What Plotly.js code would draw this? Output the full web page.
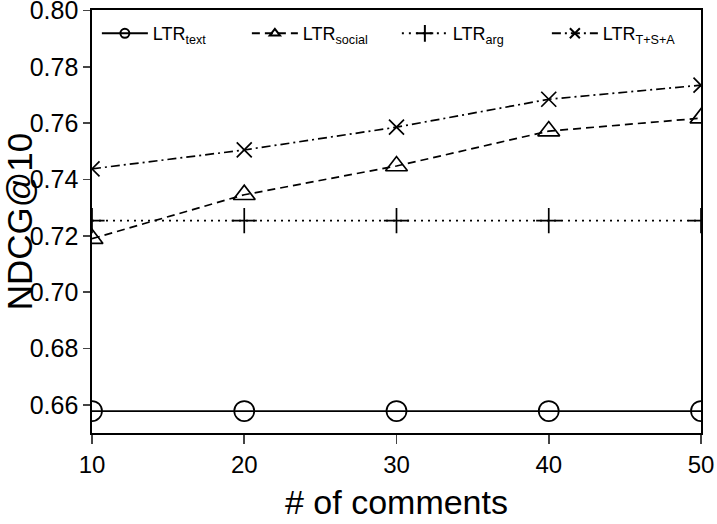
<!DOCTYPE html>
<html><head><meta charset="utf-8">
<script src="https://cdn.plot.ly/plotly-3.0.1.min.js"></script>
<style>html,body{margin:0;padding:0;background:#fff}</style>
</head><body>
<div id="chart" style="width:717px;height:524px"></div>
<script>
const comments = [10, 20, 30, 40, 50];
const ltrText = [0.6578, 0.6578, 0.6578, 0.6578, 0.6578];
const ltrSocial = [0.7190, 0.7346, 0.7448, 0.7572, 0.7618];
const ltrArg = [0.7254, 0.7254, 0.7254, 0.7254, 0.7254];
const ltrTSA = [0.7438, 0.7505, 0.7586, 0.7685, 0.7735];
const seriesNames = ['LTR<sub>text</sub>', 'LTR<sub>social</sub>', 'LTR<sub>arg</sub>', 'LTR<sub>T+S+A</sub>'];
const yTicks = [0.66, 0.68, 0.70, 0.72, 0.74, 0.76, 0.78, 0.80];
const yTickText = ['0.66', '0.68', '0.70', '0.72', '0.74', '0.76', '0.78', '0.80'];

const dashes = ['solid', '8px,5px', '2px,5px', '9px,4px,2px,4px'];
const symbols = ['circle-open', 'triangle-up-open', 'cross-thin-open', 'x-thin-open'];
const bigSizes = [20, 19, 18, 15];
const legSizes = [9, 9, 12, 10];
const series = [ltrText, ltrSocial, ltrArg, ltrTSA];

const data = [];
series.forEach((y, i) => {
  data.push({
    x: comments, y: y, name: seriesNames[i], type: 'scatter', mode: 'lines+markers',
    showlegend: false,
    line: {color: '#000', width: 1.7, dash: dashes[i]},
    marker: {symbol: symbols[i], size: bigSizes[i], color: '#000', line: {color: '#000', width: 1.7}}
  });
});
series.forEach((y, i) => {
  data.push({
    x: [null], y: [null], name: seriesNames[i], type: 'scatter', mode: 'lines+markers',
    showlegend: true,
    line: {color: '#000', width: 2, dash: dashes[i]},
    marker: {symbol: symbols[i], size: legSizes[i], color: '#000', line: {color: '#000', width: 2}}
  });
});

const layout = {
  width: 717, height: 524,
  margin: {l: 92, r: 16, t: 10, b: 91},
  paper_bgcolor: '#fff', plot_bgcolor: '#fff',
  font: {family: 'Liberation Sans, Arial, sans-serif', color: '#000'},
  showlegend: true,
  legend: {orientation: 'h', x: 0.008, y: 0.988, xanchor: 'left', yanchor: 'top',
    borderwidth: 0, font: {size: 18}, itemwidth: 46, entrywidth: 89, entrywidthmode: 'pixels',
    bgcolor: 'rgba(0,0,0,0)'},
  xaxis: {range: [10, 50], tickvals: comments, ticks: 'outside', ticklen: 9, tickwidth: 1.7,
    showline: true, linecolor: '#000', linewidth: 1.7, mirror: true, showgrid: false, zeroline: false,
    tickfont: {size: 24}, title: {text: '# of comments', font: {size: 34}, standoff: 14}},
  yaxis: {range: [0.65, 0.8002], tickvals: yTicks, ticktext: yTickText, ticklabeloverflow: 'allow',
    ticks: 'outside', ticklen: 7, tickwidth: 1.7,
    showline: true, linecolor: '#000', linewidth: 1.7, mirror: true, showgrid: false, zeroline: false,
    tickfont: {size: 25}, title: {text: 'NDCG@10', font: {size: 35}, standoff: 0}}
};

Plotly.newPlot('chart', data, layout, {displayModeBar: false, staticPlot: true});
</script>
</body></html>
